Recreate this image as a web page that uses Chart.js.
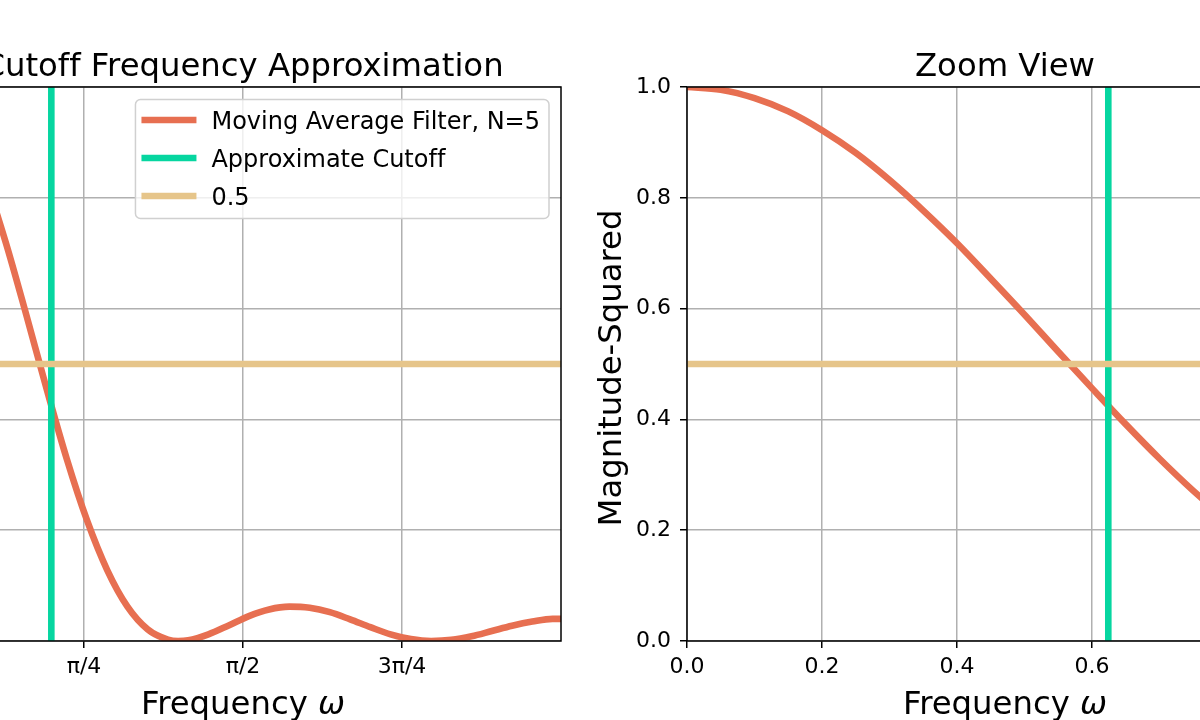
<!DOCTYPE html>
<html>
<head>
<meta charset="utf-8">
<script src="https://cdn.jsdelivr.net/npm/chart.js@4.4.1/dist/chart.umd.min.js"></script>
<style>
  html, body { margin: 0; padding: 0; background: #fff; overflow: hidden; }
  body { width: 1200px; height: 720px; position: relative; }
  .panel { position: absolute; top: 0; width: 766px; height: 720px; }
</style>
</head>
<body>
<div class="panel" id="leftBox" style="left:-185px"><canvas id="leftChart"></canvas></div>
<div class="panel" id="rightBox" style="left:577px"><canvas id="rightChart"></canvas></div>
<script>
// |H(w)|^2 of the N=5 moving average
const omegaFull = [0, 0.1, 0.2, 0.3, 0.4, 0.5, 0.6, 0.7, 0.8, 0.9, 1.0, 1.1, 1.2, 1.25, 1.3,
                   1.4, 1.5, 1.6, 1.7, 1.8, 1.9, 2.0, 2.1, 2.2, 2.3, 2.4, 2.5, 2.6, 2.7, 2.8,
                   2.9, 3.0, 3.1, 3.1416];
const magFull = [1.0, 0.980, 0.922, 0.832, 0.718, 0.589, 0.456, 0.329, 0.218, 0.128, 0.062,
                 0.021, 0.0025, 0.0, 0.0013, 0.012, 0.028, 0.045, 0.057, 0.062, 0.060, 0.052,
                 0.039, 0.025, 0.012, 0.0036, 0.0001, 0.002, 0.0085, 0.018, 0.0275, 0.035,
                 0.040, 0.040];

// same curve, zoom panel
const omegaZoom = [0, 0.05, 0.1, 0.15, 0.2, 0.25, 0.3, 0.35, 0.4, 0.45, 0.5, 0.55, 0.6,
                   0.65, 0.7, 0.75, 0.8, 0.85, 0.9, 0.95];
const magZoom = [1.0, 0.995, 0.980, 0.956, 0.922, 0.881, 0.832, 0.777, 0.718, 0.654, 0.589,
                 0.522, 0.456, 0.391, 0.329, 0.271, 0.218, 0.170, 0.128, 0.092];

const cutoff = 0.624;
const halfPower = 0.5;
const fullMax = 3.1416;
const zoomMax = 0.942;

const piTickValues = [0, 0.7854, 1.5708, 2.3562];
const piTickLabels = ['0', 'π/4', 'π/2', '3π/4'];
const zoomTickValues = [0, 0.2, 0.4, 0.6, 0.8];
const yTickValues = [0, 0.2, 0.4, 0.6, 0.8, 1.0];

const orange = '#e76f51';
const green = '#06d6a0';
const tan = '#e6c58a';
const font = "'DejaVu Sans', sans-serif";
const labelSize = 32.3;

function toPoints(xs, ys) {
  return xs.map((x, i) => ({ x: x, y: ys[i] }));
}

// spines, titles, axis labels and the legend box, matplotlib style
const frame = {
  id: 'frame',
  afterDatasetsDraw(chart, args, o) {
    const ctx = chart.ctx;
    const a = chart.chartArea;
    const cx = (a.left + a.right) / 2;
    ctx.save();
    ctx.strokeStyle = '#000';
    ctx.lineWidth = 1.5;
    ctx.strokeRect(a.left, a.top, a.right - a.left, a.bottom - a.top);

    // no "ff" ligature, like matplotlib
    ctx.textRendering = 'optimizeSpeed';
    ctx.fillStyle = '#000';
    ctx.textBaseline = 'alphabetic';
    ctx.textAlign = 'center';
    const normal = labelSize + 'px ' + font;
    const ital = 'italic ' + labelSize + 'px ' + font;
    ctx.font = normal;
    ctx.fillText(o.title, cx, a.top - 11.5);

    // "Frequency ω" with an italic omega
    ctx.font = normal;
    const w1 = ctx.measureText(o.xLabel).width;
    ctx.font = ital;
    const w2 = ctx.measureText(o.xSymbol).width;
    const x0 = cx - (w1 + w2) / 2;
    ctx.textAlign = 'left';
    ctx.font = normal;
    ctx.fillText(o.xLabel, x0, a.bottom + 73);
    ctx.font = ital;
    ctx.fillText(o.xSymbol, x0 + w1, a.bottom + 73);

    ctx.save();
    ctx.translate(a.left - 66, (a.top + a.bottom) / 2 + 4);
    ctx.rotate(-Math.PI / 2);
    ctx.textAlign = 'center';
    ctx.font = normal;
    ctx.fillText(o.yLabel, 0, 0);
    ctx.restore();

    if (o.legend) {
      const sets = chart.data.datasets;
      ctx.font = '24px ' + font;
      let maxW = 0;
      sets.forEach(d => { maxW = Math.max(maxW, ctx.measureText(d.label).width); });
      const right = a.right - 12;
      const top = a.top + 12.5;
      const w = 76 + maxW + 9;
      const h = 119;
      const left = right - w;
      ctx.beginPath();
      ctx.roundRect(left, top, w, h, 5);
      ctx.fillStyle = 'rgba(255,255,255,0.8)';
      ctx.fill();
      ctx.strokeStyle = '#d0d0d0';
      ctx.lineWidth = 1.5;
      ctx.stroke();
      sets.forEach((d, i) => {
        const y = top + 20.5 + i * 38;
        ctx.beginPath();
        ctx.moveTo(left + 6, y);
        ctx.lineTo(left + 61, y);
        ctx.strokeStyle = d.borderColor;
        ctx.lineWidth = d.borderWidth;
        ctx.stroke();
        ctx.fillStyle = '#000';
        ctx.textAlign = 'left';
        ctx.fillText(d.label, left + 76, y + 8.5);
      });
    }
    ctx.restore();
  }
};

function makeChart(id, curveX, curveY, xMax, tickValues, tickLabel, title, legend) {
  const ctx = document.getElementById(id).getContext('2d');
  return new Chart(ctx, {
    type: 'line',
    data: {
      datasets: [{
        label: 'Moving Average Filter, N=5',
        data: toPoints(curveX, curveY),
        borderColor: orange,
        borderWidth: 6.6,
        cubicInterpolationMode: 'monotone',
        pointRadius: 0,
        clip: 0,
        order: 3
      }, {
        label: 'Approximate Cutoff',
        data: [{ x: cutoff, y: 0 }, { x: cutoff, y: 1 }],
        borderColor: green,
        borderWidth: 6.6,
        pointRadius: 0,
        clip: 0,
        order: 2
      }, {
        label: String(halfPower),
        data: [{ x: 0, y: halfPower }, { x: xMax, y: halfPower }],
        borderColor: tan,
        borderWidth: 6.6,
        pointRadius: 0,
        clip: 0,
        order: 1
      }]
    },
    options: {
      responsive: true,
      maintainAspectRatio: false,
      animation: false,
      events: [],
      layout: { padding: { top: 87, right: 20, bottom: 0, left: 0 } },
      plugins: {
        legend: { display: false },
        tooltip: { enabled: false },
        frame: {
          title: title,
          xLabel: 'Frequency ',
          xSymbol: 'ω',
          yLabel: 'Magnitude-Squared',
          legend: legend
        }
      },
      scales: {
        x: {
          type: 'linear',
          min: 0,
          max: xMax,
          afterBuildTicks: s => { s.ticks = tickValues.map(v => ({ value: v })); },
          afterFit: s => { s.height = 79; },
          border: { display: false },
          grid: { color: '#b0b0b0', lineWidth: 1.5, tickColor: '#000', tickWidth: 1.5, tickLength: 7 },
          ticks: {
            color: '#000',
            padding: 6,
            maxRotation: 0,
            autoSkip: false,
            font: { family: font, size: 22 },
            callback: tickLabel
          }
        },
        y: {
          type: 'linear',
          min: 0,
          max: 1,
          afterBuildTicks: s => { s.ticks = yTickValues.map(v => ({ value: v })); },
          afterFit: s => { s.width = 110; },
          border: { display: false },
          grid: { color: '#b0b0b0', lineWidth: 1.5, tickColor: '#000', tickWidth: 1.5, tickLength: 7 },
          ticks: {
            color: '#000',
            padding: 9,
            font: { family: font, size: 22 },
            callback: v => v.toFixed(1)
          }
        }
      }
    },
    plugins: [frame]
  });
}

makeChart('leftChart', omegaFull, magFull, fullMax, piTickValues,
  (v, i) => piTickLabels[i], 'Cutoff Frequency Approximation', true);
makeChart('rightChart', omegaZoom, magZoom, zoomMax, zoomTickValues,
  v => v.toFixed(1), 'Zoom View', false);
</script>
</body>
</html>
